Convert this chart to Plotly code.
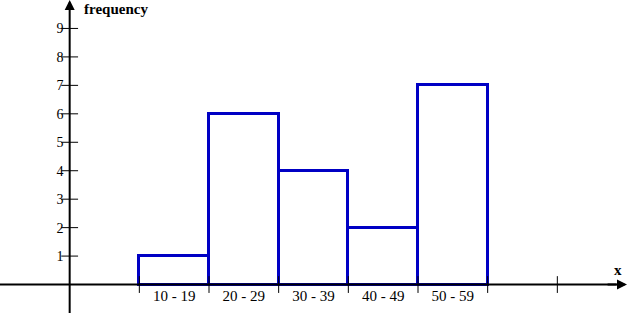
import plotly.graph_objects as go

classes = ["10 - 19", "20 - 29", "30 - 39", "40 - 49", "50 - 59"]
freq = [1, 6, 4, 2, 7]
class_pos = [1.5, 2.5, 3.5, 4.5, 5.5]
x_ticks = [1, 2, 3, 4, 5, 6, 7]
y_ticks = [1, 2, 3, 4, 5, 6, 7, 8, 9]

BLUE = "#0000C4"
FONT = "Liberation Serif"

fig = go.Figure()

fig.add_trace(go.Bar(
    x=class_pos, y=freq, width=1,
    marker=dict(color="white", line=dict(color=BLUE, width=3)),
    hoverinfo="skip", showlegend=False,
))

# x-axis tick marks
fig.add_trace(go.Scatter(
    x=x_ticks, y=[0] * len(x_ticks), mode="markers",
    marker=dict(symbol="line-ns", size=12, line=dict(color="black", width=1)),
    hoverinfo="skip", showlegend=False,
))
# y-axis tick marks (crosses)
fig.add_trace(go.Scatter(
    x=[0] * len(y_ticks), y=y_ticks, mode="markers",
    marker=dict(symbol="line-ew", size=12, line=dict(color="black", width=1)),
    hoverinfo="skip", showlegend=False,
))

fig.update_layout(
    width=627, height=313,
    margin=dict(l=0, r=0, t=0, b=0),
    paper_bgcolor="white", plot_bgcolor="white",
    bargap=0,
    font=dict(family=FONT, size=14, color="black"),
    xaxis=dict(
        range=[-1, 8], showgrid=False, zeroline=False,
        showline=False,
        tickvals=class_pos, ticktext=classes, ticks="",
        anchor="free", position=0.088, automargin=False,
        tickfont=dict(family=FONT, size=15),
    ),
    yaxis=dict(
        range=[-1, 10], showgrid=False, zeroline=False,
        showline=False,
        tickvals=y_ticks, ticktext=[str(v) for v in y_ticks], ticks="",
        anchor="free", position=1/9 - 0.01, automargin=False,
        tickfont=dict(family=FONT, size=14),
    ),
    shapes=[
        dict(type="line", xref="x", yref="y", x0=-1, x1=7.85, y0=0, y1=0,
             line=dict(color="black", width=2), layer="above"),
        dict(type="line", xref="x", yref="y", x0=0, x1=0, y0=-1, y1=9.8,
             line=dict(color="black", width=2), layer="above"),
    ],
    annotations=[
        dict(x=8, y=0, ax=7.7, ay=0, xref="x", yref="y", axref="x", ayref="y",
             text="", showarrow=True, arrowhead=2, arrowsize=1, arrowwidth=2,
             arrowcolor="black"),
        dict(x=0, y=10, ax=0, ay=9.7, xref="x", yref="y", axref="x", ayref="y",
             text="", showarrow=True, arrowhead=2, arrowsize=1, arrowwidth=2,
             arrowcolor="black"),
        dict(x=0.17, y=9.7, xref="x", yref="y", text="<b>frequency</b>",
             showarrow=False, xanchor="left", yanchor="middle",
             font=dict(family=FONT, size=15)),
        dict(x=7.95, y=0.5, xref="x", yref="y", text="<b>x</b>",
             showarrow=False, xanchor="right", yanchor="middle",
             font=dict(family=FONT, size=15)),
    ],
)

fig.write_html("out.html")
